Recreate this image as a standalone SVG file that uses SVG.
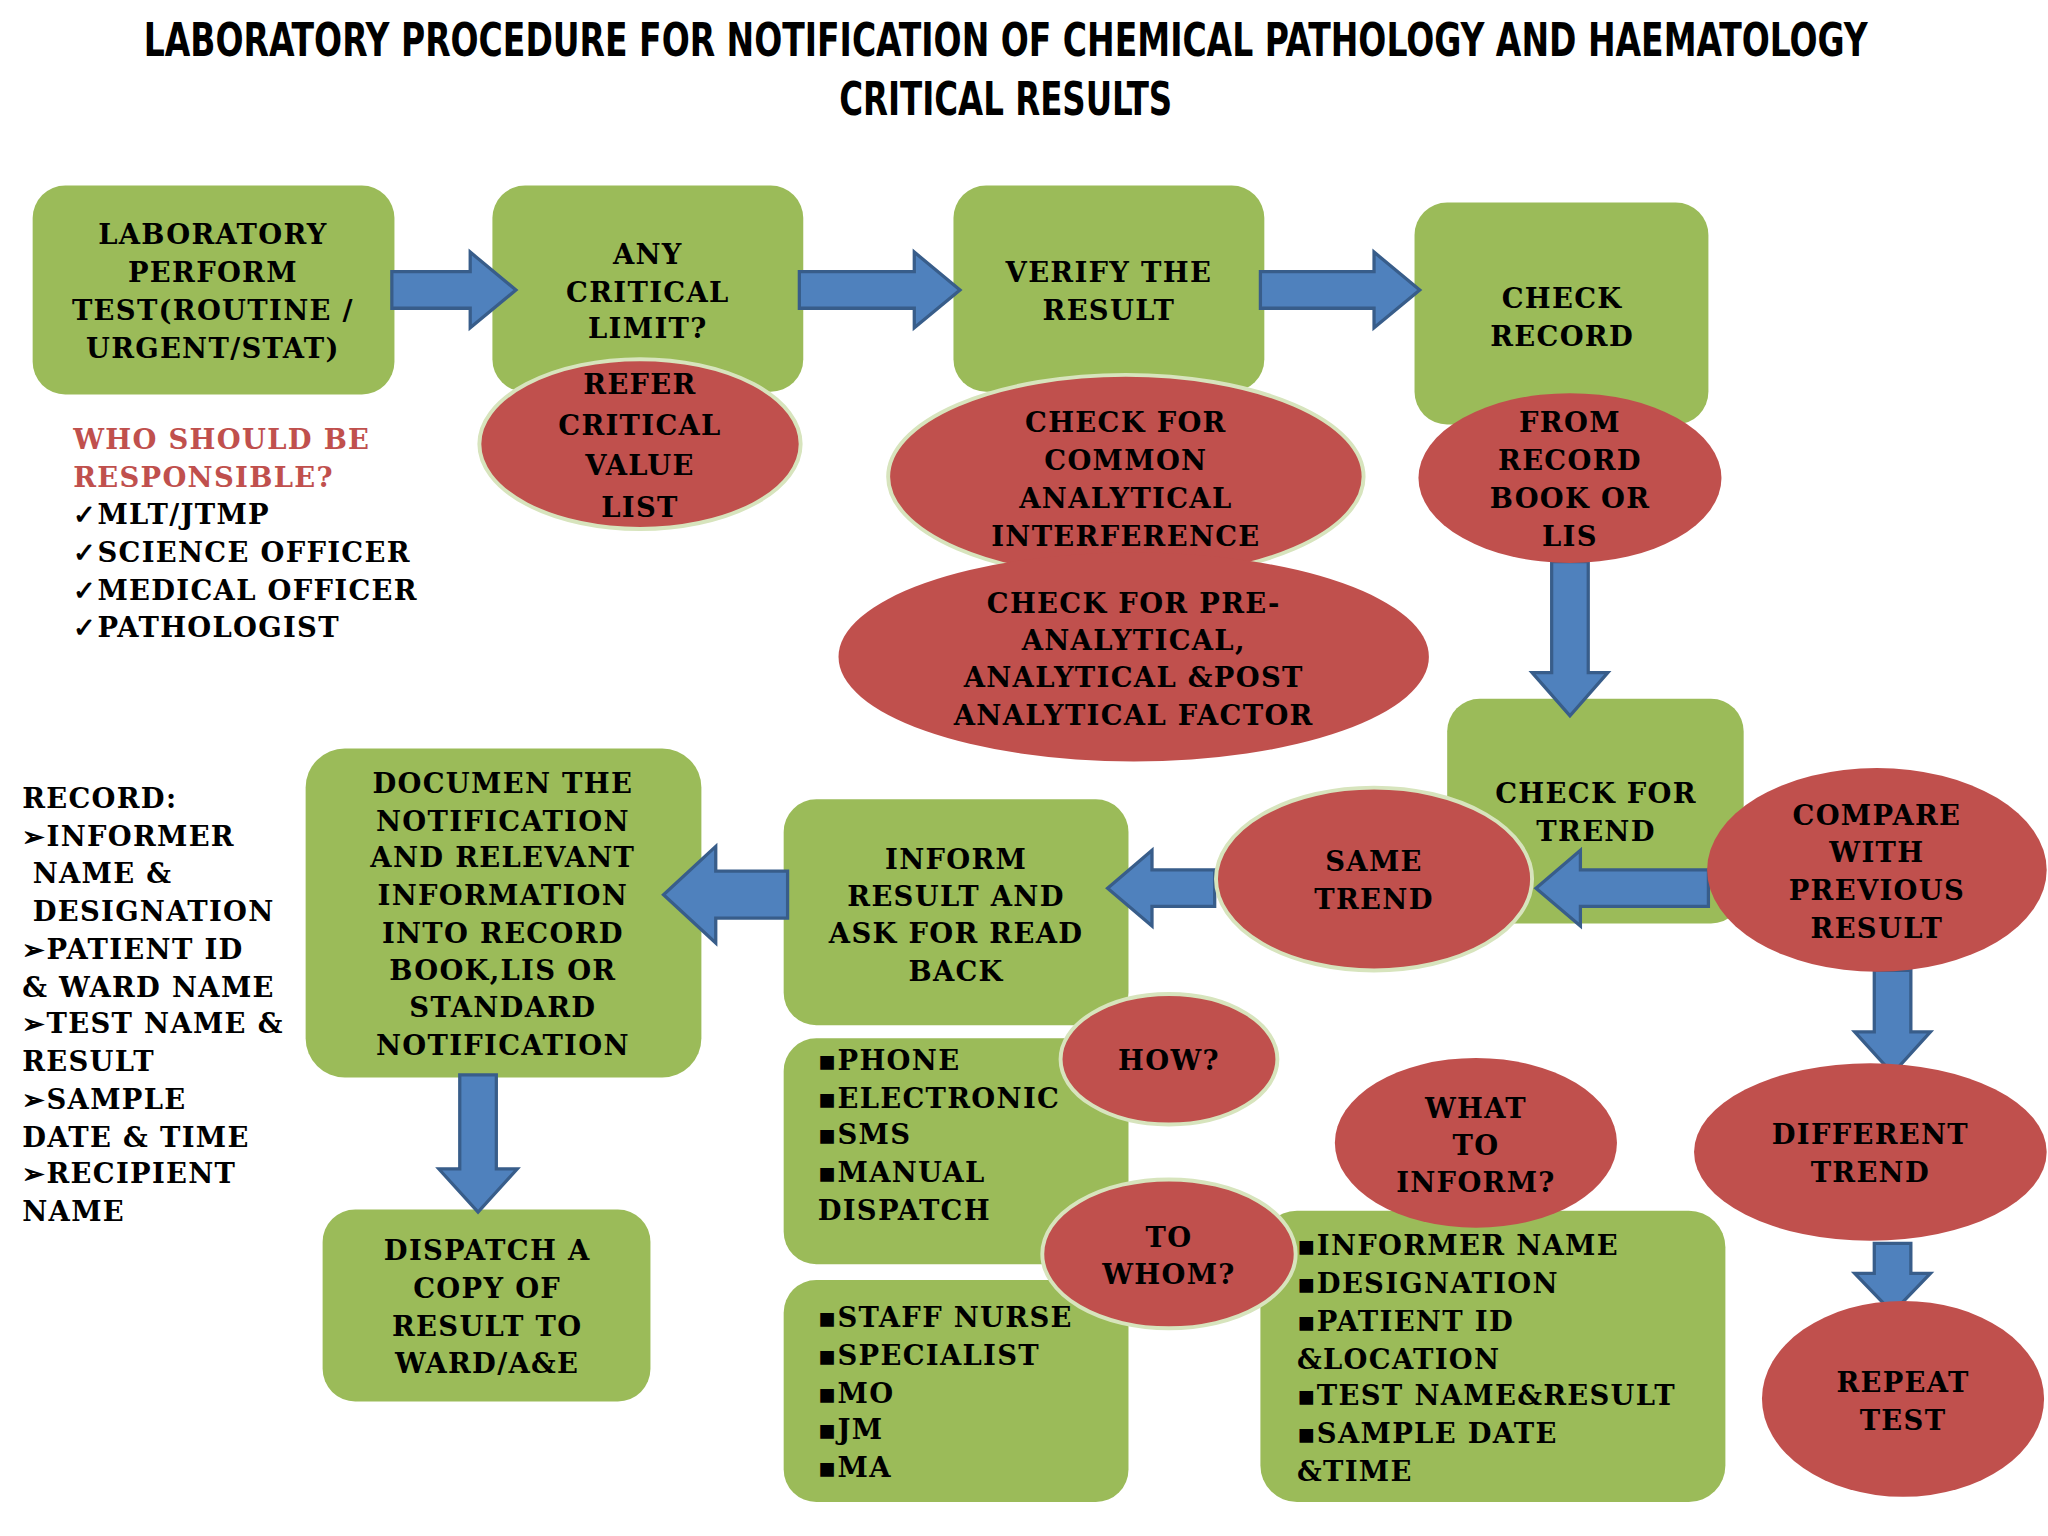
<svg xmlns="http://www.w3.org/2000/svg" width="2048" height="1536" viewBox="0 0 2048 1536">
<style>
.g{fill:#9BBB59}
.r{fill:#C0504D}
.a{fill:#4F81BD;stroke:#385D8A;stroke-width:2.5}
text{font-family:"DejaVu Serif","Liberation Serif",serif;font-weight:bold;font-size:21px;fill:#000;letter-spacing:1px}
.c{text-anchor:middle}
.t{font-family:"DejaVu Sans","Liberation Sans",sans-serif;font-stretch:condensed;font-size:36px;letter-spacing:0;transform-box:fill-box}
.red{fill:#C0504D}
</style>
<rect width="2048" height="1536" fill="#fff"/>
<g transform="scale(1.30612)">
<g id="title">
<text class="c t" x="770" y="43" textLength="1320" lengthAdjust="spacingAndGlyphs">LABORATORY PROCEDURE FOR NOTIFICATION OF CHEMICAL PATHOLOGY AND HAEMATOLOGY</text>
<text class="c t" x="770" y="88" textLength="255" lengthAdjust="spacingAndGlyphs">CRITICAL RESULTS</text>
</g>
<g id="n1"><rect class="g" x="25" y="142" width="277" height="160" rx="25"/>
<text class="c" x="163" y="187">LABORATORY</text><text class="c" x="163" y="216">PERFORM</text><text class="c" x="163" y="245">TEST(ROUTINE /</text><text class="c" x="163" y="274">URGENT/STAT)</text></g>
<g id="n2"><rect class="g" x="377" y="142" width="238" height="158" rx="25"/>
<text class="c" x="496" y="202">ANY</text><text class="c" x="496" y="231">CRITICAL</text><text class="c" x="496" y="259">LIMIT?</text></g>
<g id="n3"><rect class="g" x="730" y="142" width="238" height="158" rx="25"/>
<text class="c" x="849" y="216">VERIFY THE</text><text class="c" x="849" y="245">RESULT</text></g>
<g id="n4"><rect class="g" x="1083" y="155" width="225" height="170" rx="25"/>
<text class="c" x="1196" y="236">CHECK</text><text class="c" x="1196" y="265">RECORD</text></g>
<g id="n5"><rect class="g" x="1108" y="535" width="227" height="172" rx="25"/>
<text class="c" x="1222" y="615">CHECK FOR</text><text class="c" x="1222" y="644">TREND</text></g>
<g id="n6"><rect class="g" x="600" y="612" width="264" height="173" rx="25"/>
<text class="c" x="732" y="665">INFORM</text><text class="c" x="732" y="694">RESULT AND</text><text class="c" x="732" y="722">ASK FOR READ</text><text class="c" x="732" y="751">BACK</text></g>
<g id="n7"><rect class="g" x="234" y="573" width="303" height="252" rx="30"/>
<text class="c" x="385" y="607">DOCUMEN THE</text><text class="c" x="385" y="636">NOTIFICATION</text><text class="c" x="385" y="664">AND RELEVANT</text><text class="c" x="385" y="693">INFORMATION</text><text class="c" x="385" y="722">INTO RECORD</text><text class="c" x="385" y="750">BOOK,LIS OR</text><text class="c" x="385" y="779">STANDARD</text><text class="c" x="385" y="808">NOTIFICATION</text></g>
<g id="n8"><rect class="g" x="247" y="926" width="251" height="147" rx="25"/>
<text class="c" x="373" y="965">DISPATCH A</text><text class="c" x="373" y="994">COPY OF</text><text class="c" x="373" y="1023">RESULT TO</text><text class="c" x="373" y="1051">WARD/A&amp;E</text></g>
<g id="n9"><rect class="g" x="600" y="795" width="264" height="173" rx="25"/>
<text x="626" y="819">▪PHONE</text><text x="626" y="848">▪ELECTRONIC</text><text x="626" y="876">▪SMS</text><text x="626" y="905">▪MANUAL</text><text x="626" y="934">DISPATCH</text></g>
<g id="n10"><rect class="g" x="600" y="980" width="264" height="170" rx="25"/>
<text x="626" y="1016">▪STAFF NURSE</text><text x="626" y="1045">▪SPECIALIST</text><text x="626" y="1074">▪MO</text><text x="626" y="1102">▪JM</text><text x="626" y="1131">▪MA</text></g>
<g id="n11"><rect class="g" x="965" y="927" width="356" height="223" rx="28"/>
<text x="993" y="961">▪INFORMER NAME</text><text x="993" y="990">▪DESIGNATION</text><text x="993" y="1019">▪PATIENT ID</text><text x="993" y="1048">&amp;LOCATION</text><text x="993" y="1076">▪TEST NAME&amp;RESULT</text><text x="993" y="1105">▪SAMPLE DATE</text><text x="993" y="1134">&amp;TIME</text></g>
<g id="connectors">
<polygon class="a" points="300,208 360,208 360,193 395,222 360,251 360,236 300,236"/>
<polygon class="a" points="612,208 700,208 700,193 735,222 700,251 700,236 612,236"/>
<polygon class="a" points="965,208 1052,208 1052,193 1087,222 1052,251 1052,236 965,236"/>
<polygon class="a" points="1188,430 1216,430 1216,515 1231,515 1202,548 1173,515 1188,515"/>
<polygon class="a" points="1308,666 1210,666 1210,651 1176,680 1210,709 1210,694 1308,694"/>
<polygon class="a" points="930,666 882,666 882,651 848,680 882,709 882,694 930,694"/>
<polygon class="a" points="603,667 548,667 548,648 508,685 548,722 548,703 603,703"/>
<polygon class="a" points="352,823 380,823 380,895 396,895 366,928 336,895 352,895"/>
<polygon class="a" points="1435,743 1463,743 1463,790 1478,790 1449,822 1420,790 1435,790"/>
<polygon class="a" points="1435,952 1463,952 1463,975 1478,975 1449,1005 1420,975 1435,975"/>
</g>
<g id="e1"><ellipse class="r" cx="490" cy="340" rx="123" ry="65" stroke="#D7E4BD" stroke-width="3"/>
<text class="c" x="490" y="302">REFER</text><text class="c" x="490" y="333">CRITICAL</text><text class="c" x="490" y="364">VALUE</text><text class="c" x="490" y="396">LIST</text></g>
<g id="e2"><ellipse class="r" cx="862" cy="365" rx="182" ry="78" stroke="#D7E4BD" stroke-width="3"/>
<text class="c" x="862" y="331">CHECK FOR</text><text class="c" x="862" y="360">COMMON</text><text class="c" x="862" y="389">ANALYTICAL</text><text class="c" x="862" y="418">INTERFERENCE</text></g>
<g id="e3"><ellipse class="r" cx="868" cy="503" rx="226" ry="80"/>
<text class="c" x="868" y="469">CHECK FOR PRE-</text><text class="c" x="868" y="498">ANALYTICAL,</text><text class="c" x="868" y="526">ANALYTICAL &amp;POST</text><text class="c" x="868" y="555">ANALYTICAL FACTOR</text></g>
<g id="e4"><ellipse class="r" cx="1202" cy="366" rx="116" ry="65"/>
<text class="c" x="1202" y="331">FROM</text><text class="c" x="1202" y="360">RECORD</text><text class="c" x="1202" y="389">BOOK OR</text><text class="c" x="1202" y="418">LIS</text></g>
<g id="e5"><ellipse class="r" cx="1437" cy="666" rx="130" ry="78"/>
<text class="c" x="1437" y="632">COMPARE</text><text class="c" x="1437" y="660">WITH</text><text class="c" x="1437" y="689">PREVIOUS</text><text class="c" x="1437" y="718">RESULT</text></g>
<g id="e6"><ellipse class="r" cx="1052" cy="673" rx="121" ry="70" stroke="#D7E4BD" stroke-width="3"/>
<text class="c" x="1052" y="667">SAME</text><text class="c" x="1052" y="696">TREND</text></g>
<g id="e7"><ellipse class="r" cx="895" cy="811" rx="83" ry="50" stroke="#D7E4BD" stroke-width="3"/>
<text class="c" x="895" y="819">HOW?</text></g>
<g id="e8"><ellipse class="r" cx="895" cy="960" rx="97" ry="57" stroke="#D7E4BD" stroke-width="3"/>
<text class="c" x="895" y="955">TO</text><text class="c" x="895" y="983">WHOM?</text></g>
<g id="e9"><ellipse class="r" cx="1130" cy="875" rx="108" ry="65"/>
<text class="c" x="1130" y="856">WHAT</text><text class="c" x="1130" y="884">TO</text><text class="c" x="1130" y="913">INFORM?</text></g>
<g id="e10"><ellipse class="r" cx="1432" cy="882" rx="135" ry="68"/>
<text class="c" x="1432" y="876">DIFFERENT</text><text class="c" x="1432" y="905">TREND</text></g>
<g id="e11"><ellipse class="r" cx="1457" cy="1071" rx="108" ry="75"/>
<text class="c" x="1457" y="1066">REPEAT</text><text class="c" x="1457" y="1095">TEST</text></g>
<g id="who">
<text class="red" x="56" y="344">WHO SHOULD BE</text><text class="red" x="56" y="373">RESPONSIBLE?</text>
<text x="56" y="401">✓MLT/JTMP</text><text x="56" y="430">✓SCIENCE OFFICER</text><text x="56" y="459">✓MEDICAL OFFICER</text><text x="56" y="488">✓PATHOLOGIST</text>
</g>
<g id="record">
<text x="17" y="619">RECORD:</text><text x="17" y="648">➢INFORMER</text><text x="25" y="676">NAME &amp;</text><text x="25" y="705">DESIGNATION</text><text x="17" y="734">➢PATIENT ID</text><text x="17" y="763">&amp; WARD NAME</text><text x="17" y="791">➢TEST NAME &amp;</text><text x="17" y="820">RESULT</text><text x="17" y="849">➢SAMPLE</text><text x="17" y="878">DATE &amp; TIME</text><text x="17" y="906">➢RECIPIENT</text><text x="17" y="935">NAME</text>
</g>
</g>
</svg>
